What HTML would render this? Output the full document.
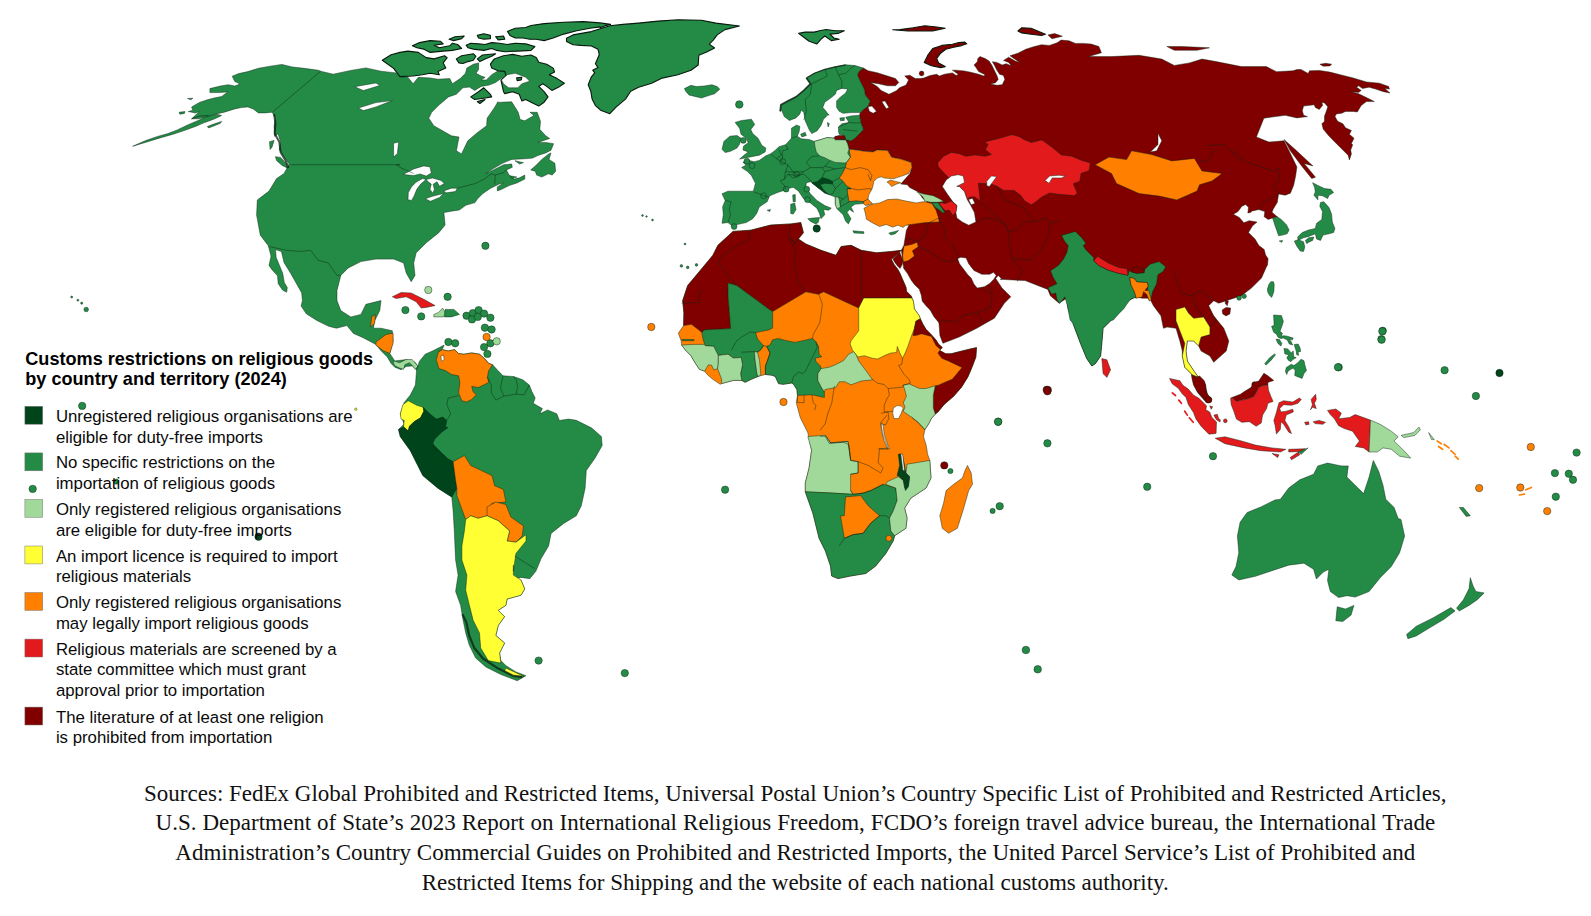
<!DOCTYPE html>
<html lang="en"><head><meta charset="utf-8"><title>Customs restrictions on religious goods by country and territory (2024)</title>
<style>
html,body{margin:0;padding:0;background:#fff}
body{width:1591px;height:916px;position:relative;overflow:hidden;font-family:"Liberation Sans",Arial,Helvetica,sans-serif;color:#000}
svg{position:absolute;left:0;top:0}
svg polygon,svg circle{stroke:#0c2414;stroke-width:.45;stroke-linejoin:round}
svg polygon.j{stroke:#081a0d;stroke-width:1.1}
svg .b{fill:none;stroke:#0c2414;stroke-width:.45}
.title{position:absolute;left:25.3px;font-weight:bold;font-size:18.1px;line-height:20px;white-space:nowrap}
.sw{position:absolute;left:24.6px;width:18.3px;height:18.3px;box-sizing:border-box;border:1px solid rgba(70,70,70,.5)}
.lt{position:absolute;left:55.9px;font-size:16.8px;line-height:19px;white-space:nowrap;color:#0a0a0a}
.src{position:absolute;left:-.7px;width:1592px;text-align:center;font-family:"Liberation Serif","Times New Roman",serif;font-size:23px;line-height:25px;color:#111;white-space:nowrap}
</style></head><body>
<svg width="1591" height="780" viewBox="0 0 1591 780">
<polygon points="232.2,76.2 238.7,73.6 247.9,71.6 258.4,68.3 268.8,66.4 281.9,64.4 292.4,67.0 304.2,68.3 318.6,70.3 320.6,71.2 333.2,74.2 350.8,70.4 365.9,67.9 381.0,71.2 396.1,72.9 401.1,76.7 407.9,77.3 413.1,83.8 418.3,77.3 430.1,77.9 438.0,79.2 449.8,78.6 452.4,83.8 460.2,78.6 465.5,73.3 466.8,68.1 473.3,64.2 478.6,62.9 478.6,69.4 476.0,73.3 481.2,76.0 485.1,77.3 481.2,79.9 486.4,79.9 491.7,74.7 498.2,70.7 504.8,71.4 506.1,76.0 500.9,78.6 495.6,82.5 489.1,85.1 481.2,86.4 474.7,90.4 469.4,87.1 462.9,87.8 456.3,94.3 448.5,96.9 439.3,104.8 431.4,112.6 431.3,113.1 428.8,118.2 433.8,125.7 451.4,135.8 459.0,137.0 456.4,150.8 461.5,153.9 467.8,140.8 476.6,133.2 486.6,125.7 487.1,118.2 494.2,108.1 497.9,101.8 497.3,102.4 511.7,101.8 518.2,112.3 520.2,119.5 524.8,120.8 533.9,115.5 530.0,112.3 537.2,112.3 540.5,121.4 539.8,129.3 545.7,135.8 549.7,138.5 537.9,142.4 545.7,142.4 553.6,143.7 551.0,150.2 545.7,152.9 537.9,155.5 532.6,158.1 524.8,158.8 511.7,159.4 502.5,163.3 493.3,168.6 485.5,173.8 493.3,169.9 503.8,164.7 511.7,164.0 512.3,167.3 506.4,169.9 509.1,175.1 514.3,179.1 519.5,177.8 524.8,175.1 524.8,179.1 516.9,183.0 509.1,185.6 501.2,189.5 497.3,190.9 497.3,186.9 503.8,183.0 498.6,184.3 490.7,188.2 482.9,193.5 477.6,198.7 475.0,202.6 465.8,205.3 459.3,210.0 451.4,211.2 443.9,212.6 445.1,225.1 438.8,232.7 426.3,242.7 416.2,252.8 413.7,262.9 415.0,275.4 411.2,281.7 406.2,272.9 403.6,262.9 393.6,259.1 376.0,259.1 360.9,261.6 348.3,267.9 340.8,275.4 337.0,290.5 337.0,300.6 340.8,310.6 350.8,316.9 360.9,314.4 365.9,304.3 381.0,300.6 379.8,310.6 374.7,320.7 373.5,328.2 381.0,328.2 392.3,330.7 393.1,340.8 389.8,353.4 394.8,360.9 406.2,359.6 415.0,362.2 418.7,367.2 417.5,371.0 412.4,365.9 406.2,366.4 401.1,369.7 394.8,367.2 391.1,363.4 387.3,357.1 381.0,350.8 376.0,344.6 362.6,337.4 353.5,333.5 346.9,325.6 336.4,328.2 328.6,326.3 316.8,320.4 306.3,313.8 301.1,306.0 302.4,300.7 301.7,292.9 295.8,282.4 290.6,273.2 284.1,262.7 281.4,251.6 275.5,249.6 276.2,257.5 279.5,265.4 282.7,273.2 284.3,282.4 287.3,287.6 286.7,292.2 282.7,290.2 278.2,283.7 277.5,275.8 271.6,269.3 269.0,265.4 271.0,256.2 268.3,245.7 260.3,235.2 256.6,215.1 257.3,200.0 269.0,191.1 276.6,178.5 284.1,173.5 289.1,163.9 284.6,157.4 279.3,149.5 280.6,141.7 278.0,133.8 274.7,136.4 274.1,126.0 275.4,118.1 272.1,112.2 264.9,112.9 258.4,112.9 253.1,108.9 247.9,107.0 241.3,107.6 234.8,108.9 224.3,112.2 215.1,114.2 206.0,117.5 198.1,118.8 191.6,118.8 199.4,111.6 195.5,112.9 188.3,111.6 192.9,110.2 191.6,107.0 199.4,102.4 207.3,99.8 215.1,97.8 221.7,96.5 227.6,91.9 219.1,92.6 209.9,92.6 209.9,88.6 220.4,86.0 228.2,84.7 234.8,86.0 240.0,84.1 234.8,81.4" fill="#238b45"/>
<polygon points="206.0,117.1 198.1,120.5 187.6,125.0 177.2,129.9 168.0,133.6 157.5,136.4 145.7,140.6 132.6,146.3 147.0,141.9 160.1,137.9 173.2,134.2 185.0,130.3 195.5,126.4 203.3,123.1 213.8,119.2 221.7,115.5 216.4,114.2" fill="#238b45"/>
<polygon points="207.3,126.6 213.8,124.0 221.7,121.4 220.4,123.3 213.8,126.0 208.6,127.9" fill="#238b45"/>
<polygon points="179.1,112.2 185.0,111.6 184.4,113.5 179.8,114.2" fill="#238b45"/>
<polygon points="187.6,98.5 192.9,98.2 190.9,99.8" fill="#238b45"/>
<polygon points="269.5,141.7 274.1,140.4 272.1,146.9 270.1,149.5" fill="#238b45"/>
<polygon points="403.1,174.5 413.7,169.0 423.8,165.9 430.0,166.9 431.3,173.0 426.3,176.0 420.0,174.0 413.7,175.5" fill="#fff"/>
<polygon points="408.0,199.8 408.3,192.6 411.6,186.7 416.2,182.1 422.7,178.6 426.0,179.5 420.7,184.1 416.8,189.3 414.2,195.8 411.6,200.4" fill="#fff"/>
<polygon points="426.0,179.5 432.6,178.1 441.0,180.4 444.2,183.6 439.6,186.3 437.0,181.7 433.1,184.3 434.4,189.5 432.6,193.2 430.0,189.3 431.3,184.0 428.6,182.1" fill="#fff"/>
<polygon points="425.2,198.7 433.1,196.1 443.6,193.5 439.6,197.4 430.5,201.3" fill="#fff"/>
<polygon points="443.6,190.9 451.4,188.2 457.3,188.2 455.4,191.5 446.2,192.8" fill="#fff"/>
<polygon points="393.6,143.3 398.6,142.0 397.4,153.4 393.6,157.1" fill="#fff"/>
<polygon points="354.6,86.7 376.0,83.0 379.8,85.5 363.4,90.5" fill="#fff"/>
<polygon points="358.4,108.1 376.0,102.6 392.3,100.6 376.0,106.9 363.4,110.6" fill="#fff"/>
<polygon class="j" points="382.3,60.3 391.1,54.8 400.0,52.4 407.9,51.1 418.3,52.4 426.2,57.6 434.1,58.9 444.5,55.7 447.2,57.6 443.2,62.9 445.8,68.1 438.0,71.4 439.3,74.7 430.1,73.3 422.3,74.7 413.1,76.0 400.0,76.6 393.6,68.4" fill="#238b45"/>
<polygon class="j" points="412.4,45.8 419.6,42.6 430.1,40.6 440.6,41.3 443.2,43.9 434.1,45.2 439.3,47.8 449.8,45.8 452.4,43.2 457.6,44.5 461.6,48.5 452.4,50.4 443.2,51.1 430.1,52.4 423.6,49.1 417.0,47.8" fill="#238b45"/>
<polygon class="j" points="449.1,39.3 455.0,36.7 464.2,36.0 461.6,38.6 453.7,40.6" fill="#238b45"/>
<polygon class="j" points="466.1,45.2 470.7,43.2 478.6,43.9 485.1,44.5 491.7,42.6 499.5,43.2 507.4,44.5 515.3,43.2 525.7,43.9 534.9,46.5 531.0,50.4 517.9,51.1 504.8,51.7 496.9,50.4 491.7,48.5 483.8,50.4 473.3,49.1 468.1,47.8" fill="#238b45"/>
<polygon class="j" points="477.3,35.4 483.8,33.8 490.4,35.4 490.4,38.6 483.8,39.3 478.6,38.0" fill="#238b45"/>
<polygon class="j" points="495.6,36.7 503.5,36.0 504.8,39.3 498.2,39.9" fill="#238b45"/>
<polygon class="j" points="456.3,58.9 461.6,55.7 473.3,53.7 476.0,56.3 473.3,60.2 468.1,61.6 462.9,63.5 458.9,62.9" fill="#238b45"/>
<polygon class="j" points="477.3,58.9 482.5,55.0 495.6,53.7 491.7,56.3 485.1,58.9 479.9,61.6" fill="#238b45"/>
<polygon class="j" points="470.7,96.9 478.6,91.7 483.8,87.8 490.4,94.3 491.7,96.9 483.8,98.2 474.7,99.5" fill="#238b45"/>
<polygon class="j" points="477.3,101.5 485.1,99.5 479.9,103.5" fill="#238b45"/>
<polygon class="j" points="490.4,64.2 494.3,58.9 503.5,55.7 512.6,54.4 521.8,56.3 531.0,55.0 536.2,57.6 538.8,62.2 546.7,64.2 553.2,68.1 554.6,72.0 549.3,74.7 557.2,78.6 564.4,83.2 559.8,86.4 551.9,90.4 546.7,86.4 542.8,83.8 538.8,86.4 544.1,91.7 548.0,96.9 544.1,102.2 538.8,106.1 533.6,103.5 525.7,99.5 521.8,100.9 519.2,94.3 512.6,91.7 504.8,93.6 503.5,91.7 500.9,79.9 506.1,76.0 504.8,71.4 498.2,70.7 491.7,68.1" fill="#238b45"/>
<polygon points="507.4,74.7 515.3,73.3 525.7,77.3 529.7,81.2 521.8,83.8 517.9,87.8 508.7,87.8 503.5,83.8 501.5,79.9" fill="#fff"/>
<polygon class="j" points="516.6,77.9 521.8,77.3 521.2,79.9 517.2,80.6" fill="#238b45"/>
<polygon class="j" points="507.4,31.4 515.3,28.2 525.7,27.5 531.0,25.5 544.1,23.6 563.7,22.3 583.4,21.6 600.0,22.9 610.6,24.4 605.6,25.6 600.6,27.7 600.0,26.9 589.9,28.2 576.8,30.8 563.7,34.1 553.2,38.0 544.1,40.6 536.2,39.3 529.7,39.3 523.1,38.0 515.3,38.0 510.0,35.4" fill="#238b45"/>
<polygon points="530.7,169.9 535.3,166.0 541.8,159.4 548.4,154.2 551.0,152.9 549.0,159.4 554.9,163.3 555.6,171.2 552.3,175.1 548.4,173.8 541.8,177.1 536.6,175.1 535.3,171.2" fill="#238b45"/>
<polygon points="515.0,160.7 523.5,162.7 519.5,164.0" fill="#238b45"/>
<polygon points="510.4,175.8 516.9,177.1 511.7,178.4" fill="#238b45"/>
<polygon points="275.4,156.7 280.6,157.4 286.5,163.9 287.2,167.9 281.9,165.3 276.7,160.7" fill="#238b45"/>
<polygon class="j" points="566.5,38.2 573.1,34.9 591.4,31.6 609.8,25.7 622.9,24.4 638.6,23.1 658.2,21.1 677.9,19.8 701.5,20.2 715.9,23.1 739.4,26.0 725.0,29.6 717.2,34.9 713.2,40.1 709.3,44.1 714.6,48.0 706.7,51.9 698.8,55.2 698.2,65.0 691.0,70.2 677.9,74.8 662.2,78.1 651.7,83.3 638.6,87.3 630.7,91.2 625.5,99.1 616.3,106.9 609.8,113.7 600.6,110.2 595.4,105.6 592.1,99.1 590.8,91.2 588.2,84.7 591.4,76.8 594.7,72.9 592.7,70.2 598.0,67.6 595.4,63.7 599.3,54.5 598.0,49.3 591.4,46.0 581.0,45.4 573.1,44.7 566.5,41.4" fill="#238b45"/>
<polygon points="684.4,88.6 691.0,85.3 696.2,86.6 704.1,86.0 711.9,84.7 717.2,86.6 719.8,89.2 714.6,93.8 708.0,95.8 701.5,98.0 694.9,96.4 689.0,95.1 685.7,91.2" fill="#238b45"/>
<polygon class="j" points="798.6,33.4 805.1,32.1 814.3,32.1 819.5,30.8 826.1,29.5 835.3,30.8 844.4,30.8 837.9,33.4 830.0,34.1 833.9,38.0 839.2,39.3 831.3,40.6 824.8,36.0 820.9,39.3 816.9,43.9 809.1,41.3 803.8,37.3" fill="#238b45"/>
<circle cx="739.3" cy="104.5" r="3.8" fill="#238b45"/>
<polyline points="320.6,71.2 272.8,111.9" class="b"/>
<polyline points="290.4,164.7 400.0,164.7 396.1,164.7 401.1,167.9 413.7,173.5" class="b"/>
<polyline points="457.3,188.2 475.0,183.6 484.2,179.1 491.4,173.8 495.3,175.1 494.7,184.3" class="b"/>
<polyline points="495.3,175.1 503.8,172.5 506.4,169.9" class="b"/>
<polyline points="269.1,246.5 286.7,250.3 300.6,251.5 310.6,250.3 318.2,260.3 328.2,262.9 337.0,275.4 340.8,275.4" class="b"/>
<polygon points="376.0,342.0 386.0,334.5 393.1,333.2 393.1,343.3 389.8,353.4 383.5,350.8 376.0,345.3" fill="#ff7f00"/>
<polygon points="371.7,316.9 375.2,314.4 374.7,323.2 370.5,327.0" fill="#ff7f00"/>
<polygon points="393.1,360.8 399.6,362.7 406.2,359.5 412.1,359.5 416.7,364.7 418.0,366.0 415.4,369.3 412.7,366.0 409.5,362.7 404.9,364.7 403.6,369.3 399.6,368.0 394.4,365.4" fill="#a1d99b"/>
<polygon points="392.3,296.8 401.1,292.5 411.2,293.0 423.8,299.3 435.1,305.6 426.3,307.4 421.2,308.1 416.2,301.8 406.2,296.8 396.1,298.6" fill="#e31a1c"/>
<polygon points="433.8,314.4 438.3,312.6 442.6,308.1 445.6,313.1 443.4,316.9 433.8,316.9" fill="#a1d99b"/>
<polygon points="445.1,309.4 453.9,309.4 459.5,314.4 451.4,316.9 444.4,316.9" fill="#238b45"/>
<circle cx="485.4" cy="245.8" r="3.7" fill="#238b45"/>
<circle cx="447.6" cy="296.8" r="3.7" fill="#238b45"/>
<circle cx="405.4" cy="310.1" r="3.7" fill="#238b45"/>
<circle cx="421.2" cy="316.4" r="3.7" fill="#238b45"/>
<circle cx="466.5" cy="315.7" r="3.7" fill="#238b45"/>
<circle cx="472.8" cy="313.1" r="3.7" fill="#238b45"/>
<circle cx="478.6" cy="310.1" r="3.7" fill="#238b45"/>
<circle cx="484.1" cy="313.6" r="3.7" fill="#238b45"/>
<circle cx="472.0" cy="319.4" r="3.7" fill="#238b45"/>
<circle cx="477.8" cy="316.9" r="3.7" fill="#238b45"/>
<circle cx="490.4" cy="317.7" r="3.7" fill="#238b45"/>
<circle cx="484.9" cy="327.7" r="3.7" fill="#238b45"/>
<circle cx="491.6" cy="329.5" r="3.7" fill="#238b45"/>
<circle cx="490.4" cy="343.3" r="3.7" fill="#238b45"/>
<circle cx="484.1" cy="347.1" r="3.7" fill="#238b45"/>
<circle cx="487.4" cy="353.9" r="3.7" fill="#238b45"/>
<circle cx="448.4" cy="342.0" r="3.7" fill="#238b45"/>
<circle cx="455.2" cy="343.3" r="3.7" fill="#238b45"/>
<circle cx="428.3" cy="290.0" r="3.7" fill="#a1d99b"/>
<circle cx="486.6" cy="337.0" r="3.7" fill="#ff7f00"/>
<circle cx="496.7" cy="341.3" r="3.7" fill="#a1d99b"/>
<polygon points="418.0,366.0 419.3,361.4 425.2,354.2 432.4,351.0 438.9,347.7 444.2,345.1 442.9,348.3 438.3,352.3 442.2,349.6 448.1,351.0 454.7,349.6 458.6,353.6 463.8,354.2 471.7,352.9 479.5,354.2 484.8,358.8 488.7,363.4 492.6,364.7 497.9,370.6 503.1,375.8 513.6,376.5 522.8,379.8 529.3,385.0 531.9,391.6 535.2,398.1 533.2,403.3 542.4,408.6 539.8,413.8 547.6,409.9 556.8,413.8 559.4,420.4 568.6,419.1 576.3,420.3 591.4,427.8 601.4,436.6 602.2,445.4 595.1,458.0 586.3,470.6 585.1,488.2 581.3,505.8 576.3,515.8 563.7,523.4 551.1,533.4 548.6,546.0 541.1,558.6 536.0,571.1 529.8,578.7 521.0,577.4 515.9,578.7 521.0,580.1 524.7,588.9 521.0,595.2 507.1,599.0 505.9,605.3 498.3,610.3 504.6,616.6 498.3,625.4 495.8,635.4 504.6,643.0 499.6,653.0 500.8,660.6 505.9,665.6 515.9,671.9 526.0,675.7 517.2,680.7 500.8,674.4 485.8,666.9 475.7,658.1 469.4,645.5 465.7,632.9 463.1,620.3 460.6,605.3 455.6,591.4 458.1,575.1 455.6,560.0 454.3,530.9 453.1,510.8 451.8,497.0 438.0,488.2 422.9,475.6 410.3,450.5 400.3,436.6 399.0,429.1 404.1,424.1 400.3,414.0 404.1,402.7 410.3,395.1 415.4,385.1 416.6,370.0" fill="#238b45"/>
<polygon points="436.3,360.1 438.3,352.3 442.2,349.6 448.1,351.0 454.7,349.6 458.6,353.6 463.8,354.2 471.7,352.9 479.5,354.2 484.8,358.8 488.7,363.4 492.6,364.7 488.7,370.6 487.4,377.2 488.7,382.4 483.5,385.0 478.2,387.6 471.7,386.3 473.0,391.6 476.3,394.8 471.7,399.4 466.4,402.0 461.9,400.7 458.6,392.9 459.9,382.4 458.6,375.8 451.4,374.5 445.5,370.6 438.9,368.6 437.6,364.1" fill="#ff7f00"/>
<polygon points="440.9,356.2 443.5,354.9 444.2,359.5 441.6,361.4" fill="#fff"/>
<polygon points="400.3,413.8 402.9,404.7 408.2,400.7 416.7,405.3 423.2,407.3 423.9,411.2 420.6,417.8 414.1,421.7 409.5,426.3 408.2,430.9 403.6,426.9 404.2,420.4 401.0,419.1" fill="#ffff33"/>
<polygon points="398.3,429.5 403.6,426.9 408.2,430.9 409.5,426.3 414.1,421.7 420.6,417.8 423.9,411.2 423.2,407.3 429.8,413.8 436.3,419.1 442.9,417.1 446.8,420.4 445.5,426.9 448.1,427.6 441.6,432.2 435.0,438.7 432.4,443.9 433.0,444.2 446.8,458.0 453.1,461.8 455.6,480.6 456.9,488.2 451.8,497.0 438.0,488.2 422.9,475.6 410.3,450.5 400.3,436.6" fill="#00441b"/>
<polygon points="453.1,461.8 464.4,455.5 470.7,465.5 492.0,475.6 494.6,485.7 503.4,489.4 505.9,502.0 492.0,503.2 487.0,515.8 478.2,518.3 470.7,515.8 465.7,519.6 456.9,495.7 456.9,488.2 455.6,480.6" fill="#ff7f00"/>
<polygon points="487.0,507.0 495.8,502.0 505.9,504.5 510.9,517.1 523.5,525.9 522.2,535.9 515.9,542.2 507.1,541.0 509.6,530.9 498.3,520.8 487.0,515.8" fill="#ff7f00"/>
<polygon points="465.7,519.6 470.7,515.8 478.2,518.3 487.0,515.8 498.3,520.8 509.6,530.9 507.1,541.0 515.9,542.2 526.0,534.7 526.0,541.0 515.9,553.5 513.4,571.1 513.4,565.0 513.4,575.1 521.0,580.1 524.7,588.9 521.0,595.2 507.1,599.0 505.9,605.3 498.3,610.3 504.6,616.6 498.3,625.4 495.8,635.4 504.6,643.0 499.6,653.0 500.8,663.1 488.3,660.6 480.7,648.0 479.5,632.9 473.2,620.3 469.4,605.3 465.7,590.2 466.9,575.1 461.9,560.0 461.9,546.0 464.4,530.9" fill="#ffff33"/>
<polygon points="505.9,668.1 523.5,676.2 513.4,676.2 504.6,671.1" fill="#ffff33"/>
<polyline points="487.4,377.2 491.3,385.0 491.3,392.9 495.9,400.1 503.8,396.1 516.2,394.2 524.1,394.8 529.3,385.0" class="b"/>
<polyline points="503.8,396.1 500.5,387.6 503.1,375.8" class="b"/>
<polyline points="516.2,394.2 517.5,386.3 516.2,379.8 513.6,376.5" class="b"/>
<polyline points="446.8,420.4 450.7,413.8 446.8,404.7 448.1,398.1 458.6,395.5" class="b"/>
<polyline points="446.8,458.0 434.2,447.9 433.0,442.9" class="b"/>
<polyline points="514.7,556.0 534.8,568.6" class="b"/>
<circle cx="538.6" cy="660.6" r="3.7" fill="#238b45"/>
<circle cx="624.8" cy="673.1" r="3.7" fill="#238b45"/>
<circle cx="725.1" cy="489.7" r="3.7" fill="#238b45"/>
<polyline points="462.4,614.3 466.3,622.2 469.3,635.9 474.2,647.7 483.0,658.5 496.8,667.7 512.5,675.6 522.3,677.2" style="fill:none;stroke:#0a1f10;stroke-opacity:.75;stroke-width:2.2;stroke-linejoin:round"/>
<polyline points="274.1,114.2 275.4,123.3 274.7,133.8 279.3,141.7 280.6,152.2 285.9,161.3 288.5,167.9" style="fill:none;stroke:#0a1f10;stroke-opacity:.75;stroke-width:2.0;stroke-linejoin:round"/>
<polyline points="191.6,118.8 199.4,116.1 208.6,115.5" style="fill:none;stroke:#0a1f10;stroke-opacity:.75;stroke-width:0.8;stroke-linejoin:round"/>
<polygon points="863.4,68.1 868.0,70.7 877.2,72.7 887.6,76.0 895.5,78.6 898.8,82.5 895.5,85.8 887.6,85.8 878.5,83.8 870.6,82.5 877.2,86.4 881.1,90.4 889.0,94.3 894.2,91.7 896.8,90.4 899.4,87.8 906.0,85.1 908.6,79.9 904.7,76.0 909.9,75.3 915.2,78.6 920.0,78.6 923.6,78.1 930.1,75.5 936.7,74.2 939.3,76.1 944.5,74.2 952.4,72.9 956.3,75.5 958.3,74.2 952.4,70.2 956.3,70.2 964.2,70.9 970.7,72.2 978.6,74.2 983.8,76.1 985.1,74.8 978.6,71.6 976.0,67.6 974.0,65.0 977.3,61.7 977.9,58.5 979.9,56.5 985.1,58.5 989.1,61.1 991.7,65.0 994.3,70.2 996.9,75.5 998.2,79.4 995.6,82.7 990.4,84.0 996.9,85.3 1002.2,84.7 1004.8,79.4 1003.5,75.5 999.5,74.2 996.9,70.2 994.3,65.0 992.3,61.7 996.9,62.4 1002.2,65.0 1006.1,63.7 1011.3,65.7 1008.7,62.4 1003.5,60.4 1008.7,57.2 1015.3,61.1 1019.8,62.4 1013.9,58.5 1010.0,55.8 1017.9,53.2 1025.7,49.3 1033.6,46.7 1041.5,44.7 1049.3,45.4 1057.2,42.7 1061.1,40.1 1069.0,40.8 1075.5,43.4 1083.4,43.4 1091.2,44.1 1098.9,46.5 1101.4,52.8 1088.8,56.6 1111.5,56.6 1139.1,55.3 1161.8,59.1 1174.3,65.4 1189.4,62.9 1202.0,59.1 1216.1,61.6 1241.3,66.6 1266.4,66.6 1276.5,71.7 1293.1,70.8 1297.0,69.5 1301.0,69.5 1308.2,73.4 1309.5,70.8 1319.3,70.4 1329.8,72.1 1340.2,74.7 1353.3,78.0 1366.4,81.9 1379.5,83.2 1388.7,86.5 1389.4,89.1 1384.8,88.5 1390.0,93.0 1383.5,91.7 1375.6,89.1 1369.1,87.2 1362.5,88.5 1358.6,85.8 1356.6,87.2 1361.2,90.4 1358.6,92.4 1351.4,91.7 1358.6,93.7 1366.4,97.6 1374.3,101.6 1366.4,101.6 1361.2,105.5 1357.3,112.0 1353.3,111.4 1345.5,111.4 1341.6,113.3 1336.3,114.0 1335.0,116.6 1337.6,121.2 1342.9,123.8 1345.5,127.8 1351.4,130.4 1349.4,134.3 1354.0,138.2 1351.4,143.5 1352.7,144.8 1350.7,150.0 1351.4,153.9 1349.4,160.0 1348.1,155.3 1341.6,148.7 1335.0,142.2 1328.5,135.6 1323.2,129.1 1321.9,123.8 1324.5,121.2 1324.5,116.0 1326.5,110.7 1327.8,106.8 1324.5,102.9 1321.9,102.2 1322.6,105.5 1319.3,109.4 1315.4,107.5 1314.1,104.8 1303.6,106.1 1302.3,110.7 1303.6,115.3 1307.5,116.6 1297.0,117.9 1285.2,115.3 1263.9,118.2 1256.4,137.0 1268.9,142.0 1284.0,140.8 1291.6,155.9 1296.9,167.0 1295.6,176.2 1293.6,185.4 1290.4,193.2 1285.1,195.2 1278.6,193.9 1277.3,202.4 1273.3,208.9 1272.0,212.2 1277.3,216.8 1272.7,218.1 1268.1,219.4 1264.2,216.8 1264.8,211.6 1258.9,209.6 1252.4,210.9 1250.4,212.6 1247.8,212.9 1248.5,207.6 1245.8,204.4 1241.9,206.3 1238.0,211.6 1233.4,214.2 1239.3,217.5 1243.9,222.7 1249.1,220.7 1257.0,222.0 1252.4,226.0 1248.5,232.5 1255.0,239.1 1258.9,245.6 1264.2,249.5 1265.5,254.8 1268.1,258.7 1267.5,265.3 1266.5,266.7 1261.5,278.1 1251.4,288.1 1241.4,295.7 1226.3,300.7 1218.7,303.2 1213.7,300.7 1208.7,305.7 1213.7,315.8 1223.8,328.3 1228.8,340.9 1226.3,351.0 1213.7,362.3 1209.9,356.0 1201.1,351.0 1198.6,345.9 1193.6,340.9 1187.3,340.9 1186.0,351.0 1187.3,361.0 1194.8,372.3 1198.6,377.4 1204.9,383.6 1207.4,393.7 1211.2,401.2 1206.2,402.5 1198.6,393.7 1193.6,383.6 1192.3,374.8 1184.8,367.3 1182.3,356.0 1182.3,351.0 1179.8,340.9 1176.0,328.3 1167.2,327.1 1163.4,328.3 1160.9,315.8 1153.4,305.7 1149.6,298.2 1142.0,298.2 1135.8,296.9 1128.2,300.7 1123.2,308.2 1110.6,320.8 1103.1,328.3 1101.8,343.4 1100.6,356.0 1095.5,363.5 1091.8,366.0 1086.7,358.5 1080.5,343.4 1072.9,323.3 1067.9,308.2 1066.6,298.2 1059.1,303.2 1050.3,295.7 1047.8,289.4 1025.1,280.6 1000.0,279.3 1002.0,279.2 998.2,275.4 995.7,278.4 1002.0,288.0 1010.8,296.8 1004.5,303.1 994.4,318.2 976.8,328.2 959.2,337.0 942.9,343.3 939.9,335.5 939.4,328.6 938.9,322.7 934.0,316.8 930.1,309.9 926.2,306.0 922.2,301.1 921.3,295.2 919.3,289.3 914.4,284.4 911.4,280.5 907.5,273.6 903.6,268.2 902.7,260.3 901.4,250.3 903.9,245.3 906.4,230.2 909.0,225.1 905.3,224.7 918.4,213.8 927.1,201.8 922.8,198.5 918.4,192.0 909.7,187.6 907.3,184.7 900.7,184.0 906.0,178.1 909.9,173.5 911.9,167.6 911.2,162.4 900.7,159.1 891.6,157.2 887.6,150.6 877.2,149.9 873.2,151.9 864.1,151.3 856.2,149.9 849.0,149.3 847.7,144.1 845.7,139.6 851.0,140.8 854.9,138.2 858.8,134.2 863.4,129.6 860.8,122.4 859.5,115.2 860.8,110.7 860.8,112.9 862.8,110.0 868.0,106.1 870.0,100.9 865.4,95.6 864.1,89.1 860.8,82.5 857.5,75.3 858.8,71.4" fill="#800000"/>
<polygon class="j" points="924.2,62.4 928.2,54.5 932.7,48.6 941.9,45.4 952.4,44.3 958.9,42.5 964.8,42.1 966.8,43.8 961.6,45.6 953.7,47.3 945.8,49.3 940.6,53.2 936.7,58.5 938.6,63.0 945.2,66.6 940.6,67.6 931.4,65.7" fill="#800000"/>
<circle cx="921.6" cy="73.5" r="2.4" fill="#800000"/>
<polygon class="j" points="900.0,29.6 913.1,27.7 924.9,25.7 936.7,27.0 945.2,28.3 932.7,31.0 919.6,31.0 907.9,31.0 892.7,29.7" fill="#800000"/>
<polygon class="j" points="1017.9,31.0 1021.8,27.7 1031.0,28.3 1038.8,31.6 1045.4,34.2 1041.5,35.5 1031.0,34.2 1021.8,32.9" fill="#800000"/>
<polygon points="1048.0,34.9 1054.6,33.6 1062.4,36.2 1051.9,38.8" fill="#800000"/>
<polygon points="1166.8,46.5 1181.9,46.5 1209.5,47.8 1197.0,50.3 1174.3,50.3" fill="#800000"/>
<polygon points="1284.0,139.5 1296.6,150.8 1312.9,165.9 1304.1,163.4 1315.5,177.2 1311.7,178.5 1301.6,165.9 1290.3,150.8" fill="#800000"/>
<polygon points="1319.9,64.2 1325.8,63.3 1331.7,64.2 1329.8,65.9 1323.2,66.2" fill="#800000"/>
<polygon points="835.0,136.3 845.2,136.3 845.2,139.5 835.4,139.1" fill="#800000"/>
<polygon points="1158.0,133.2 1161.8,140.8 1156.7,150.8 1150.4,152.1 1158.0,144.6" fill="#fff"/>
<polygon points="868.0,106.7 871.9,106.1 876.5,111.3 873.2,113.3 869.3,111.3" fill="#fff"/>
<polygon points="881.8,101.5 885.0,100.9 889.0,107.4 886.3,108.7 883.7,104.8" fill="#fff"/>
<polygon points="937.7,162.9 943.6,156.3 951.4,152.4 959.3,153.7 965.8,156.3 975.0,155.0 985.5,156.3 991.4,154.4 985.5,149.8 988.1,144.5 984.8,141.9 998.6,138.6 1011.7,134.7 1019.5,136.7 1023.5,139.3 1031.3,142.6 1041.8,139.9 1051.0,146.5 1061.5,155.0 1071.9,156.3 1081.1,160.2 1090.3,162.9 1089.0,170.7 1081.1,173.3 1079.8,181.2 1073.2,183.8 1077.2,193.0 1074.6,195.6 1058.8,194.3 1049.7,193.0 1041.8,196.9 1035.3,202.2 1031.3,204.8 1024.8,200.9 1020.9,195.6 1014.3,190.4 1003.8,190.4 997.3,186.4 990.7,183.8 978.3,183.2 980.2,200.9 975.0,196.9 969.8,196.9 967.2,199.5 964.5,191.7 959.3,186.4 951.4,181.2 948.2,177.3 938.3,166.8" fill="#e31a1c"/>
<polygon points="942.3,186.4 946.2,179.9 951.4,176.0 958.0,174.7 963.2,176.0 964.5,182.5 956.7,186.4 959.3,186.4 964.5,191.7 967.2,199.5 970.4,204.8 974.4,212.6 975.9,221.9 968.7,225.2 962.2,221.9 956.9,218.0 955.6,211.4 956.9,205.5 951.7,201.0 954.1,203.5 947.5,194.3" fill="#fff"/>
<polygon points="968.5,199.5 972.4,198.2 975.0,203.5 971.1,204.8" fill="#fff"/>
<polygon points="957.6,258.6 960.9,257.3 966.1,257.9 968.7,263.8 973.9,270.4 981.8,274.3 989.7,274.3 993.6,272.3 996.2,275.6 993.6,279.5 989.7,283.5 984.4,286.7 977.2,288.1 973.9,284.1 971.3,278.2 967.4,274.3 963.5,269.1 959.5,263.8" fill="#fff"/>
<polygon points="986.8,181.2 991.4,176.0 996.6,176.6 993.3,181.2 989.4,186.4 986.8,185.8" fill="#fff"/>
<polygon points="1045.1,180.6 1049.7,176.0 1058.8,175.3 1065.4,176.0 1061.5,177.9 1052.3,177.9 1049.0,183.2" fill="#fff"/>
<polygon points="1095.1,164.7 1109.0,157.1 1126.6,159.6 1131.6,150.8 1151.7,154.6 1171.8,160.9 1194.4,158.4 1202.0,171.0 1222.1,173.5 1212.0,181.0 1199.5,184.8 1197.0,191.1 1176.8,199.9 1159.2,196.1 1139.1,193.6 1116.5,183.5 1111.5,173.5" fill="#ff7f00"/>
<polygon points="938.6,202.3 945.1,203.6 951.7,201.0 956.9,205.5 956.3,211.4 953.0,215.4 949.1,210.1 945.1,210.8 941.2,206.2" fill="#e31a1c"/>
<polygon points="917.0,191.8 922.9,193.8 933.3,195.7 939.9,199.0 943.8,201.6 937.3,202.3 930.7,202.3 924.8,201.0 922.9,197.0" fill="#a1d99b"/>
<polygon points="931.8,202.9 937.9,202.5 941.2,206.9 945.1,212.7 942.5,212.7 938.6,209.5 935.3,207.5" fill="#238b45"/>
<polygon points="863.9,208.2 871.8,204.2 879.6,202.9 887.5,199.6 896.7,199.0 905.8,201.0 916.3,202.9 924.2,201.6 932.0,203.6 936.0,210.1 938.6,218.0 939.2,221.9 925.5,222.6 915.0,223.9 905.8,225.2 903.2,227.4 898.0,225.2 892.7,227.2 886.2,224.5 879.6,226.5 873.1,223.2 866.5,219.3 865.2,212.7" fill="#ff7f00"/>
<polygon points="863.8,200.7 869.3,201.8 868.2,205.1 863.8,204.0" fill="#ff7f00"/>
<polygon points="849.0,149.3 856.2,149.9 864.1,151.3 873.2,151.9 877.2,149.9 887.6,150.6 891.6,157.2 900.7,159.1 911.2,162.4 911.9,167.6 908.6,173.5 903.4,175.5 895.5,178.1 894.2,178.8 884.4,178.1 881.1,176.8 877.2,178.1 873.9,181.4 872.6,187.3 871.9,189.2 868.7,195.1 868.0,199.1 863.4,201.7 856.2,201.0 849.0,201.7 847.7,195.1 847.0,188.6 851.0,188.6 846.4,186.0 843.1,181.4 839.2,178.1 842.5,172.9 845.1,167.6 846.4,162.4 850.3,157.2" fill="#ff7f00"/>
<polygon points="887.0,182.0 890.3,180.1 895.5,181.4 900.7,182.7 896.8,184.0 891.6,186.6 889.6,184.0" fill="#ff7f00"/>
<polygon points="863.4,201.7 868.0,199.1 870.6,201.7 872.6,203.6 865.4,205.6 863.4,203.6" fill="#ff7f00"/>
<polygon points="770.4,153.9 775.0,150.6 778.9,146.7 785.5,144.7 788.1,142.1 791.4,138.2 791.4,133.6 791.4,128.3 796.6,125.1 799.9,126.4 799.2,131.6 797.3,136.2 801.2,138.8 809.1,139.5 814.3,141.4 820.9,139.5 827.4,137.5 833.9,138.2 835.3,139.9 845.7,139.9 847.7,144.1 849.0,149.3 850.3,157.2 846.4,162.4 845.1,167.6 842.5,172.9 839.2,178.1 843.1,181.4 846.4,186.0 851.0,188.6 847.0,188.6 847.7,195.1 849.0,201.7 856.2,201.0 863.4,201.7 862.8,203.6 854.9,204.3 851.0,206.9 853.6,212.2 849.7,209.5 847.0,212.2 851.0,218.7 848.4,223.9 845.7,221.3 843.1,214.8 839.2,210.9 837.2,208.9 835.3,204.3 835.3,197.1 828.7,194.5 823.5,189.9 818.2,187.9 814.3,184.7 811.7,182.7 811.7,181.4 806.4,182.7 805.8,187.3 810.4,193.8 816.9,200.4 824.8,205.6 831.3,208.2 828.7,210.2 823.5,209.5 824.8,214.8 820.9,218.7 819.5,213.5 816.9,208.2 810.4,203.0 803.8,199.1 798.6,191.2 793.3,187.3 788.1,188.6 785.5,189.9 777.6,192.5 769.8,195.8 769.1,197.1 767.2,201.7 759.3,206.9 756.7,213.5 752.7,218.7 746.2,222.6 737.0,224.6 733.1,226.6 727.9,222.6 722.0,223.3 723.3,214.8 722.6,206.9 725.2,200.4 722.0,193.8 727.9,191.2 739.6,191.2 753.4,191.2 755.4,183.3 751.4,175.5 747.5,171.6 741.6,167.6 746.2,165.0 742.9,162.4 746.2,159.8 754.1,161.7 759.3,160.4 765.8,155.8" fill="#238b45"/>
<polygon points="806.4,77.9 814.3,73.3 824.8,69.4 835.3,66.8 845.7,64.8 854.9,65.5 863.4,68.1 858.8,71.4 857.5,75.3 860.8,82.5 864.1,89.1 865.4,95.6 870.0,100.9 868.0,106.1 862.8,110.0 860.8,112.6 851.0,112.6 843.1,113.3 839.2,111.3 836.6,107.4 836.6,100.9 840.5,96.9 845.7,93.0 847.7,89.1 841.8,88.4 836.6,90.4 835.3,94.3 831.3,97.6 824.8,102.2 822.8,107.4 826.1,111.3 828.7,115.3 828.7,113.9 823.5,119.2 820.9,125.7 816.9,131.0 811.7,133.6 809.1,129.6 805.1,120.5 803.8,112.6 801.2,110.0 799.9,113.9 796.0,117.9 789.4,120.5 784.2,116.5 781.6,110.0 780.2,111.3 780.9,104.8 788.1,100.9 796.0,96.9 803.8,90.4 810.4,83.8" fill="#238b45"/>
<polygon points="845.7,117.2 851.0,115.9 859.5,115.2 860.8,122.4 863.4,129.6 858.8,134.2 854.9,138.2 851.0,140.8 845.7,139.5 844.4,135.5 839.2,134.2 838.5,131.6 838.5,127.0 841.8,123.8 849.0,122.4" fill="#238b45"/>
<polygon points="839.8,118.1 844.4,117.6 844.2,120.5 840.5,120.7" fill="#238b45"/>
<polygon points="833.9,137.5 838.5,135.5 844.4,135.5 845.7,139.5 835.3,139.5" fill="#800000"/>
<polygon points="800.6,134.2 805.1,132.3 806.4,135.5 801.9,136.9" fill="#238b45"/>
<polygon points="827.4,122.4 829.4,123.8 828.1,127.0" fill="#238b45"/>
<polygon points="735.1,122.4 741.6,120.5 751.4,119.2 754.7,124.4 750.8,129.6 752.7,133.6 758.0,138.2 761.9,145.4 765.8,148.0 765.2,151.9 759.3,155.2 748.8,157.2 739.6,159.1 744.9,154.5 748.2,151.9 742.9,149.9 743.6,146.0 748.2,142.7 746.2,138.2 741.0,134.2 739.6,128.3" fill="#238b45"/>
<polygon points="722.0,149.3 723.9,141.4 729.8,136.2 737.0,135.5 741.0,138.2 739.6,144.1 737.0,148.0 730.5,151.3 725.2,152.6" fill="#238b45"/>
<polygon points="807.8,218.7 813.0,218.1 819.5,217.4 818.2,222.6 815.6,223.9 810.4,221.3" fill="#238b45"/>
<polygon points="790.7,204.3 794.7,203.0 796.0,209.5 793.3,214.1 790.7,213.5" fill="#238b45"/>
<polygon points="792.7,195.1 795.3,194.5 795.3,201.7 793.1,201.7" fill="#238b45"/>
<polygon points="767.2,210.2 770.4,209.5 769.8,211.5" fill="#238b45"/>
<polygon points="852.9,230.8 863.8,231.7 863.8,233.5 854.0,233.0" fill="#238b45"/>
<polygon points="888.8,233.0 894.1,231.7 898.6,230.4 895.4,233.7 890.8,235.0" fill="#238b45"/>
<circle cx="816.7" cy="228.5" r="3.7" fill="#00441b"/>
<polygon points="814.3,141.4 820.9,139.5 827.4,137.5 833.9,138.2 835.3,139.9 845.7,139.9 847.7,144.1 849.0,149.3 847.7,153.2 850.3,157.2 846.4,162.4 844.4,163.0 835.3,162.4 830.0,160.4 824.8,157.8 819.5,155.8 816.3,151.9 815.0,146.7" fill="#a1d99b"/>
<polygon points="835.3,197.1 838.5,197.1 839.8,201.7 840.5,206.9 837.2,208.9 835.3,204.3" fill="#a1d99b"/>
<polygon points="811.7,182.7 817.6,181.4 822.2,177.5 828.7,179.4 832.6,181.4 832.6,184.0 824.8,183.3 820.2,184.7 823.5,189.9 828.7,194.5 824.8,193.2 818.2,187.9 814.3,184.7" fill="#00441b"/>
<circle cx="743.3" cy="140.4" r="2.9" fill="#238b45"/>
<circle cx="746.9" cy="161.1" r="2.9" fill="#238b45"/>
<circle cx="752.1" cy="165.7" r="2.9" fill="#238b45"/>
<circle cx="782.6" cy="161.5" r="2.9" fill="#238b45"/>
<circle cx="796.6" cy="174.2" r="2.9" fill="#238b45"/>
<circle cx="786.1" cy="189.2" r="2.9" fill="#238b45"/>
<circle cx="806.8" cy="189.2" r="2.9" fill="#238b45"/>
<circle cx="807.5" cy="199.7" r="2.9" fill="#238b45"/>
<circle cx="763.6" cy="195.8" r="2.9" fill="#238b45"/>
<circle cx="734.1" cy="226.6" r="2.9" fill="#238b45"/>
<polyline points="725.2,200.4 731.1,201.7 729.2,209.5 730.5,214.8 727.9,222.6" class="b"/>
<polyline points="753.4,191.9 759.3,193.8 763.9,195.8 769.1,197.1" class="b"/>
<polyline points="770.4,153.9 776.3,158.5 781.6,161.7 788.1,165.0 785.5,171.6 784.2,179.4 780.2,180.7 784.8,186.0 785.5,189.9" class="b"/>
<polyline points="776.3,158.5 781.6,155.2 778.9,149.3" class="b"/>
<polyline points="781.6,155.2 782.9,150.6 788.1,149.3 785.5,144.7" class="b"/>
<polyline points="781.6,161.7 782.9,154.5" class="b"/>
<polyline points="788.1,165.0 793.3,172.2 803.8,171.6 810.4,167.6 806.4,162.4 811.7,156.5 819.5,155.8" class="b"/>
<polyline points="785.5,171.6 793.3,172.2 798.6,175.5 793.3,178.1 788.1,174.2 784.2,179.4" class="b"/>
<polyline points="788.1,174.2 796.0,175.5 803.8,174.2 811.7,181.4" class="b"/>
<polyline points="798.6,175.5 803.8,171.6" class="b"/>
<polyline points="810.4,167.6 822.2,167.6 824.8,171.6 822.2,177.5" class="b"/>
<polyline points="822.2,167.6 824.8,166.3 830.0,160.4" class="b"/>
<polyline points="824.8,166.3 835.3,168.9 845.1,167.6" class="b"/>
<polyline points="824.8,171.6 835.3,168.9" class="b"/>
<polyline points="832.6,181.4 839.2,178.1" class="b"/>
<polyline points="832.6,184.0 835.3,188.6 832.6,193.8 828.7,194.5" class="b"/>
<polyline points="835.3,188.6 843.1,181.4" class="b"/>
<polyline points="838.5,197.1 843.1,199.1 847.7,195.1" class="b"/>
<polyline points="840.5,206.9 839.8,201.7 843.1,199.1" class="b"/>
<polyline points="840.5,206.9 849.0,201.7" class="b"/>
<polyline points="791.4,138.2 797.3,136.2" class="b"/>
<polyline points="843.1,129.6 849.7,130.3 857.5,131.0" class="b"/>
<polyline points="838.5,127.0 849.0,122.4 856.2,123.1 860.8,122.4" class="b"/>
<polyline points="862.8,168.3 868.0,169.6 871.9,175.5 870.6,180.7 868.0,174.2" class="b"/>
<polyline points="847.0,188.6 851.0,188.6 858.8,189.9 868.0,188.6 871.9,189.2" class="b"/>
<polyline points="845.1,167.6 851.0,169.6 860.1,167.6 862.8,168.3" class="b"/>
<polyline points="824.8,69.4 827.4,76.0 811.7,83.8 810.4,94.3 805.1,99.5 806.4,111.3 803.8,120.0" class="b"/>
<polyline points="838.5,74.7 841.8,81.2 841.8,88.4" class="b"/>
<polyline points="835.3,66.8 838.5,74.7 845.7,73.3 851.0,68.1 854.9,65.5" class="b"/>
<polygon points="1061.6,235.4 1075.4,231.4 1081.9,238.0 1085.8,243.2 1083.2,245.8 1085.8,249.8 1093.7,257.6 1093.7,260.9 1098.9,265.5 1108.1,270.1 1118.6,273.3 1128.0,275.3 1129.1,270.7 1131.7,272.0 1136.9,273.3 1144.1,272.7 1144.8,269.4 1150.0,264.2 1159.2,261.6 1165.7,266.8 1163.1,271.4 1157.9,274.7 1156.6,283.8 1152.6,291.7 1151.3,297.6 1149.4,300.9 1146.7,294.3 1148.1,286.4 1147.4,282.5 1136.9,281.9 1134.3,278.6 1129.7,277.3 1131.0,285.1 1134.3,291.7 1136.3,298.2 1134.3,297.6 1130.4,299.5 1126.4,304.8 1123.8,308.7 1118.6,313.9 1113.3,320.0 1110.6,320.8 1103.1,328.3 1101.8,343.4 1100.6,356.0 1095.5,363.5 1091.8,366.0 1086.7,358.5 1080.5,343.4 1072.9,323.3 1070.1,320.0 1067.5,306.1 1064.9,296.9 1059.6,303.5 1057.0,299.5 1055.7,293.0 1051.8,294.3 1047.9,287.8 1057.0,283.8 1053.1,277.3 1050.5,270.7 1058.3,265.5 1063.6,258.9 1066.9,252.4 1068.2,245.8 1064.2,240.6" fill="#238b45"/>
<polygon points="1129.7,277.3 1134.3,278.6 1136.9,281.9 1147.4,282.5 1148.1,286.4 1144.8,290.4 1148.7,290.4 1151.3,299.5 1149.4,300.9 1146.7,294.3 1143.5,291.7 1142.2,296.9 1136.3,298.2 1134.3,291.7 1131.0,285.1" fill="#ff7f00"/>
<polygon points="1093.7,260.9 1097.6,256.3 1108.1,262.9 1118.6,267.5 1127.1,268.8 1128.0,275.3 1118.6,273.3 1108.1,270.1 1098.9,265.5" fill="#e31a1c"/>
<polygon points="1131.7,268.1 1136.9,266.8 1143.5,268.8 1144.1,272.7 1136.9,273.3 1131.7,272.0" fill="#800000"/>
<polygon points="1101.8,358.5 1106.9,359.8 1110.6,369.8 1106.9,377.4 1103.1,373.6" fill="#e31a1c"/>
<circle cx="1047.8" cy="389.9" r="3.7" fill="#800000"/>
<polygon points="1176.0,309.5 1184.8,307.0 1188.6,313.2 1193.6,318.3 1203.6,317.0 1209.9,327.1 1209.9,334.6 1201.1,337.1 1198.6,345.9 1193.6,340.9 1187.3,340.9 1186.0,351.0 1187.3,361.0 1194.8,372.3 1198.6,377.4 1192.3,374.8 1184.8,367.3 1182.3,356.0 1184.8,343.4 1179.8,330.8 1176.0,320.8" fill="#ffff33"/>
<polygon points="1222.1,310.0 1226.0,307.4 1230.6,308.1 1229.9,313.9 1226.0,315.9 1222.7,313.9" fill="#800000"/>
<circle cx="1254.4" cy="384.4" r="2.6" fill="#800000"/>
<polygon points="1267.4,289.0 1268.9,284.4 1270.8,281.7 1273.5,281.7 1274.2,284.4 1273.9,291.3 1272.7,295.1 1271.6,297.4 1269.3,295.1 1267.7,292.0" fill="#238b45"/>
<polygon points="1272.7,218.1 1277.3,216.8 1281.2,219.4 1286.4,224.7 1289.1,229.9 1287.1,233.8 1282.5,235.1 1278.6,235.8 1276.6,229.9 1274.7,224.7" fill="#238b45"/>
<polygon points="1312.6,182.7 1317.9,185.4 1324.4,188.6 1331.0,189.3 1333.6,192.6 1329.0,195.2 1327.7,198.5 1322.5,195.8 1317.9,195.2 1317.9,199.8 1313.9,195.2 1315.3,191.9 1314.6,187.3" fill="#238b45"/>
<polygon points="1320.5,202.4 1323.8,201.7 1329.0,207.6 1331.6,214.2 1332.3,222.0 1334.9,228.6 1333.6,232.5 1329.0,233.8 1323.1,235.1 1320.5,240.4 1316.6,239.1 1315.3,233.8 1308.7,236.4 1303.5,237.8 1298.2,240.4 1297.6,237.1 1302.2,232.5 1308.7,229.9 1315.3,228.6 1316.6,223.3 1321.8,219.4 1322.5,211.6 1319.8,206.3" fill="#238b45"/>
<polygon points="1305.4,240.4 1308.7,237.8 1313.9,237.1 1312.6,240.4 1308.7,242.3 1306.7,243.6" fill="#238b45"/>
<polygon points="1294.3,241.0 1298.2,239.7 1303.5,241.7 1304.8,246.9 1303.5,251.5 1300.2,250.9 1296.9,246.3" fill="#238b45"/>
<polygon points="1279.2,241.0 1282.5,240.4 1281.9,242.3" fill="#238b45"/>
<circle cx="1239.1" cy="298.0" r="2.3" fill="#238b45"/>
<circle cx="1244.1" cy="296.2" r="2.3" fill="#238b45"/>
<polygon points="1225.3,300.0 1228.4,301.0 1227.3,305.8 1225.3,303.5" fill="#800000"/>
<polygon points="1273.6,315.0 1281.4,315.5 1283.4,321.4 1281.9,326.3 1280.0,331.3 1282.4,333.2 1281.4,336.2 1283.9,335.7 1287.3,336.2 1293.2,338.1 1292.2,340.1 1289.3,339.1 1291.3,342.1 1292.7,345.0 1289.3,344.0 1287.3,340.1 1283.4,338.1 1280.5,338.6 1278.0,337.2 1276.5,334.2 1273.6,332.2 1271.6,326.3 1274.1,325.4" fill="#238b45"/>
<polygon points="1276.0,339.1 1279.5,339.6 1281.9,343.5 1280.9,346.0 1278.0,343.5" fill="#238b45"/>
<polygon points="1286.3,367.6 1291.3,364.2 1293.7,365.6 1297.2,363.2 1301.1,359.3 1304.0,360.7 1305.0,365.6 1306.5,370.6 1304.0,373.5 1302.1,378.4 1298.1,376.9 1294.7,375.5 1295.2,370.6 1293.2,368.1 1290.3,369.6 1287.8,371.5 1286.8,374.5 1285.4,371.5" fill="#238b45"/>
<polygon points="1294.2,344.5 1298.1,344.0 1300.1,348.0 1300.6,351.4 1298.1,351.9 1298.6,355.3 1296.7,354.8 1296.2,350.9 1295.2,348.0" fill="#238b45"/>
<polygon points="1283.9,348.4 1287.8,348.9 1291.3,352.9 1293.2,350.9 1293.7,356.8 1296.2,357.8 1293.2,359.3 1290.8,361.7 1288.3,360.2 1286.8,357.8 1288.8,354.8 1284.9,353.9" fill="#238b45"/>
<polygon points="1264.7,363.7 1269.6,357.8 1274.6,353.9 1275.5,354.8 1271.1,360.2 1266.2,365.1" fill="#238b45"/>
<circle cx="1382.7" cy="330.8" r="3.7" fill="#238b45"/>
<circle cx="1381.4" cy="339.1" r="3.7" fill="#238b45"/>
<circle cx="1338.7" cy="367.3" r="3.7" fill="#238b45"/>
<polygon points="903.9,246.1 912.4,244.2 917.0,242.2 918.3,246.8 912.4,250.7 914.4,256.0 908.5,260.6 903.2,261.9 902.6,255.3" fill="#ff7f00"/>
<polygon points="1169.5,378.4 1179.9,380.7 1182.9,385.3 1188.3,389.1 1193.6,395.2 1199.0,398.3 1203.5,402.8 1206.6,405.9 1205.8,409.7 1209.7,412.0 1211.9,417.4 1216.5,421.9 1216.1,433.4 1208.9,434.2 1201.3,426.5 1195.9,418.9 1193.6,412.8 1188.3,404.4 1186.0,397.5 1182.2,393.7 1178.3,388.3 1172.2,383.8" fill="#e31a1c"/>
<polygon points="1213.9,415.1 1217.3,414.3 1218.8,418.9 1220.4,419.7 1220.0,421.9 1216.5,419.7 1215.0,417.4" fill="#e31a1c"/>
<polygon points="1209.7,405.9 1212.7,406.7 1211.2,409.3" fill="#e31a1c"/>
<circle cx="1225.3" cy="420.8" r="1.9" fill="#e31a1c"/>
<polygon points="1191.3,374.6 1195.1,377.6 1199.7,376.1 1204.3,380.7 1205.8,385.3 1205.8,392.2 1208.9,396.0 1211.9,399.0 1211.2,402.1 1207.4,402.8 1204.3,397.5 1197.4,392.2 1193.6,385.3 1192.1,379.2" fill="#800000"/>
<circle cx="1208.5" cy="399.8" r="3.3" fill="#800000"/>
<polyline points="1172.3,392.9 1175.5,395.5" fill="none" stroke="#e31a1c" stroke-width="1.7" stroke-linecap="round"/>
<polyline points="1178.8,400.1 1181.4,403.3" fill="none" stroke="#e31a1c" stroke-width="1.7" stroke-linecap="round"/>
<polyline points="1184.7,411.2 1187.3,415.1" fill="none" stroke="#e31a1c" stroke-width="1.7" stroke-linecap="round"/>
<polyline points="1189.3,417.8 1193.2,422.3" fill="none" stroke="#e31a1c" stroke-width="1.7" stroke-linecap="round"/>
<polygon points="1215.2,438.2 1224.9,436.8 1241.5,440.9 1255.4,445.1 1272.0,447.9 1285.9,449.3 1280.4,452.0 1260.9,450.7 1244.3,447.9 1224.9,443.7" fill="#e31a1c"/>
<polygon points="1288.7,449.3 1305.3,448.7 1301.2,451.5 1288.7,452.0" fill="#e31a1c"/>
<polygon points="1272.0,453.4 1279.0,454.8 1277.6,457.6" fill="#e31a1c"/>
<polygon points="1290.1,457.6 1298.4,452.0 1299.8,454.8 1291.5,459.8" fill="#e31a1c"/>
<polygon points="1298.4,452.0 1308.1,447.9 1301.2,454.3" fill="#238b45"/>
<polygon points="1231.9,397.5 1240.4,394.2 1244.3,391.6 1250.9,387.6 1253.5,382.4 1258.7,381.1 1263.9,373.2 1267.9,375.8 1273.8,380.4 1267.9,382.4 1267.9,385.0 1262.6,385.7 1258.7,387.6 1256.1,392.9 1253.5,396.8 1248.2,398.8 1241.7,400.1 1236.4,401.4" fill="#800000"/>
<polygon points="1230.6,398.1 1231.9,397.5 1236.4,401.4 1241.7,400.1 1248.2,398.8 1253.5,396.8 1256.1,392.9 1258.7,387.6 1262.6,385.7 1267.9,385.0 1268.5,390.2 1270.5,395.5 1273.1,401.4 1267.9,403.3 1266.6,408.6 1262.6,415.1 1261.3,423.0 1256.1,426.3 1249.5,421.7 1241.7,422.3 1236.4,419.1 1233.8,411.2 1231.2,404.7" fill="#e31a1c"/>
<polygon points="1279.0,402.7 1283.6,400.7 1292.8,402.0 1299.3,398.1 1301.3,399.4 1298.0,403.3 1291.5,405.3 1283.6,404.7 1279.7,408.6 1281.0,411.9 1286.2,411.2 1292.8,409.2 1293.4,411.9 1286.2,415.1 1284.9,420.4 1288.8,426.9 1291.5,433.5 1288.8,432.2 1283.6,424.3 1281.0,421.7 1280.3,429.5 1276.4,434.1 1275.1,425.6 1273.8,420.4 1276.4,412.5 1277.7,407.3" fill="#e31a1c"/>
<polygon points="1311.1,399.4 1315.7,394.2 1316.3,399.4 1314.4,403.3 1316.3,408.6 1312.4,407.3 1310.4,409.9 1312.4,404.7" fill="#e31a1c"/>
<polygon points="1304.6,422.3 1308.5,421.7 1309.1,424.3 1305.9,425.0" fill="#e31a1c"/>
<polygon points="1313.1,421.7 1319.0,420.4 1325.5,422.3 1322.9,424.3 1315.0,423.6" fill="#e31a1c"/>
<polygon points="1327.5,410.4 1335.8,409.0 1341.4,413.2 1338.6,418.8 1349.7,417.4 1355.2,414.6 1370.5,420.1 1369.1,452.0 1363.6,447.9 1355.2,446.5 1359.4,440.9 1352.5,431.2 1344.2,428.5 1338.6,425.7 1334.4,418.8 1330.3,414.6" fill="#e31a1c"/>
<polygon points="1370.5,420.1 1380.2,424.3 1391.3,431.2 1398.2,436.8 1394.1,440.9 1405.2,452.0 1410.7,458.1 1399.6,456.2 1391.3,449.3 1383.0,447.9 1377.4,452.0 1369.1,452.0" fill="#a1d99b"/>
<polygon points="1401.0,435.4 1413.5,432.6 1419.0,427.1 1420.4,429.8 1414.9,435.4 1403.8,437.6" fill="#a1d99b"/>
<polygon points="1428.7,432.6 1434.3,439.6 1431.5,439.6" fill="#a1d99b"/>
<polyline points="1437.1,440.9 1441.2,443.7" fill="none" stroke="#ff7f00" stroke-width="1.7" stroke-linecap="round"/>
<polyline points="1444.0,444.3 1449.0,447.9" fill="none" stroke="#ff7f00" stroke-width="1.7" stroke-linecap="round"/>
<polyline points="1450.9,450.7 1455.1,454.3" fill="none" stroke="#ff7f00" stroke-width="1.7" stroke-linecap="round"/>
<polyline points="1455.1,456.2 1458.4,459.2" fill="none" stroke="#ff7f00" stroke-width="1.7" stroke-linecap="round"/>
<polyline points="1438.5,446.5 1442.6,449.3" fill="none" stroke="#ff7f00" stroke-width="1.7" stroke-linecap="round"/>
<polygon points="1459.3,507.5 1463.4,507.5 1470.3,515.8 1466.2,516.4" fill="#238b45"/>
<circle cx="1479.2" cy="488.1" r="3.7" fill="#ff7f00"/>
<circle cx="1520.3" cy="487.5" r="3.7" fill="#ff7f00"/>
<circle cx="1530.8" cy="447.0" r="3.7" fill="#ff7f00"/>
<circle cx="1547.2" cy="511.1" r="3.7" fill="#ff7f00"/>
<polyline points="1519.4,495.0 1524.4,494.2" fill="none" stroke="#ff7f00" stroke-width="1.7" stroke-linecap="round"/>
<polyline points="1525.8,489.8 1531.4,487.5" fill="none" stroke="#ff7f00" stroke-width="1.7" stroke-linecap="round"/>
<circle cx="1338.0" cy="367.2" r="3.7" fill="#238b45"/>
<circle cx="1382.4" cy="331.4" r="3.7" fill="#238b45"/>
<circle cx="1381.6" cy="339.7" r="3.7" fill="#238b45"/>
<circle cx="1444.6" cy="370.2" r="3.7" fill="#238b45"/>
<circle cx="1475.9" cy="396.0" r="3.7" fill="#238b45"/>
<circle cx="1576.6" cy="452.6" r="3.7" fill="#238b45"/>
<circle cx="1554.9" cy="473.1" r="3.7" fill="#238b45"/>
<circle cx="1568.8" cy="473.7" r="3.7" fill="#238b45"/>
<circle cx="1573.0" cy="479.8" r="3.7" fill="#238b45"/>
<circle cx="1555.8" cy="496.7" r="3.7" fill="#238b45"/>
<circle cx="1213.0" cy="456.2" r="3.7" fill="#238b45"/>
<circle cx="1499.5" cy="373.0" r="3.7" fill="#00441b"/>
<polygon points="1317.8,465.9 1327.5,463.1 1341.4,465.9 1348.3,465.9 1346.9,477.0 1358.0,488.1 1363.6,493.6 1369.1,477.0 1373.3,460.4 1378.8,471.5 1383.0,485.3 1385.8,499.2 1394.1,507.5 1398.2,518.6 1401.0,519.4 1404.6,536.1 1399.6,552.7 1391.3,566.6 1380.2,577.7 1369.1,591.5 1355.2,597.1 1346.9,595.7 1338.6,597.6 1330.3,591.5 1327.5,580.4 1328.9,569.3 1323.3,572.1 1316.4,579.0 1313.6,569.3 1303.9,563.2 1288.7,565.2 1272.0,570.7 1255.4,576.3 1238.8,579.9 1231.8,574.9 1236.0,566.6 1238.8,552.7 1237.4,536.1 1240.1,522.2 1247.1,512.5 1260.9,506.9 1274.8,500.0 1280.4,499.2 1288.7,488.1 1299.8,479.8 1313.6,474.2" fill="#238b45"/>
<polygon points="1337.2,606.8 1345.5,609.0 1353.9,605.4 1351.1,615.1 1342.8,621.5 1335.8,620.7" fill="#238b45"/>
<polygon points="1470.3,577.7 1473.1,586.0 1475.9,591.5 1484.2,592.9 1477.3,599.8 1469.0,605.4 1459.3,610.9 1456.5,608.2 1463.4,599.8 1469.0,588.8" fill="#238b45"/>
<polygon points="1450.9,607.6 1455.1,610.9 1444.0,619.3 1430.1,627.6 1416.3,635.9 1407.9,638.7 1406.6,634.5 1416.3,626.2 1432.9,617.9" fill="#238b45"/>
<polyline points="806.4,77.9 810.4,83.8 803.8,90.4 796.0,96.9 788.1,100.9 780.9,104.8 780.2,111.3" style="fill:none;stroke:#0a1f10;stroke-opacity:.75;stroke-width:1.8;stroke-linejoin:round"/>
<polyline points="806.4,77.9 814.3,73.3 824.8,69.4 835.3,66.8 845.7,64.8" style="fill:none;stroke:#0a1f10;stroke-opacity:.75;stroke-width:1.2;stroke-linejoin:round"/>
<polygon points="733.0,231.4 750.6,230.2 770.7,225.1 790.8,223.9 800.8,222.6 803.4,232.7 798.3,239.0 805.9,244.0 821.0,250.3 836.0,255.3 841.1,246.5 851.1,245.3 861.2,250.3 876.3,252.8 891.4,251.5 901.4,250.3 891.3,259.3 894.2,264.7 897.7,269.2 899.6,272.6 902.6,279.5 906.0,287.3 906.5,291.3 911.4,296.2 913.4,301.1 914.4,308.9 919.3,315.8 920.3,318.8 923.2,324.7 926.2,329.6 931.1,334.5 936.0,340.0 938.5,343.9 941.8,347.2 939.8,350.5 945.7,353.8 951.0,353.8 958.8,351.8 969.3,349.2 976.5,347.6 975.9,357.0 971.9,367.5 968.0,376.7 961.5,387.2 953.6,396.3 944.4,404.2 937.9,412.0 935.3,414.0 931.3,418.6 928.7,423.8 924.8,429.7 923.5,436.9 926.1,444.8 927.4,452.6 927.2,452.9 929.8,460.4 931.0,478.0 926.0,488.1 910.9,498.1 904.6,508.2 907.1,518.2 905.9,528.3 894.6,535.8 893.3,540.8 885.8,553.4 875.7,566.0 865.7,573.5 850.6,576.0 838.0,578.6 831.7,576.0 830.5,566.0 825.4,550.9 819.1,538.3 812.9,513.2 805.3,491.8 805.3,483.0 809.1,467.9 811.6,450.3 807.8,432.7 800.3,417.7 796.2,402.6 797.5,395.4 796.9,389.5 793.6,384.3 791.6,383.0 783.1,384.3 778.5,383.6 775.3,376.4 771.3,375.1 765.4,374.5 758.2,376.4 751.7,379.1 745.1,382.3 741.9,380.4 733.3,380.4 721.6,383.6 720.2,384.3 712.4,379.1 707.2,374.5 704.5,371.2 699.3,369.2 695.4,363.3 690.8,355.5 685.5,350.2 681.6,345.0 681.0,340.4 678.3,333.2 683.6,325.6 683.9,313.1 682.7,300.6 687.7,285.5 700.3,270.4 712.9,255.3 717.9,245.3" fill="#ff7f00"/>
<polygon points="733.0,231.4 750.6,230.2 770.7,225.1 790.8,223.9 800.8,222.6 803.4,232.7 798.3,239.0 805.9,244.0 821.0,250.3 836.0,255.3 841.1,246.5 851.1,245.3 861.2,250.3 876.3,252.8 891.4,251.5 901.4,250.3 891.3,259.3 894.2,264.7 897.7,269.2 899.6,272.6 902.6,279.5 906.0,287.3 906.5,291.3 911.4,296.2 911.4,298.0 863.7,298.1 858.7,308.1 823.5,291.8 818.4,294.3 805.9,291.8 772.6,311.6 768.7,309.0 736.7,285.5 727.9,283.0 728.1,296.5 730.7,328.6 703.9,329.9 701.9,332.6 698.0,329.3 691.4,324.3 683.6,325.6 683.9,313.1 682.7,300.6 687.7,285.5 700.3,270.4 712.9,255.3 717.9,245.3" fill="#800000"/>
<polygon points="858.7,308.1 863.7,298.1 911.4,298.0 913.4,301.1 914.4,308.9 919.3,315.8 920.3,318.8 915.9,321.2 914.4,328.6 911.5,335.8 907.8,346.5 905.1,353.1 902.5,358.3 899.9,353.1 897.3,346.5 896.6,352.4 890.7,353.1 885.5,355.1 877.6,359.0 872.4,358.3 864.5,355.7 858.0,357.0 852.7,350.5 850.1,343.9 851.1,340.8 858.7,330.7" fill="#ffff33"/>
<polygon points="920.3,318.8 923.2,324.7 926.2,329.6 931.1,334.5 936.0,340.0 938.6,344.3 942.5,347.6 940.6,349.5 936.0,345.6 931.4,336.4 921.6,333.8 917.6,335.1 913.0,335.8 914.4,328.6 915.9,321.2" fill="#800000"/>
<polygon points="939.8,350.5 945.7,353.8 951.0,353.8 958.8,351.8 969.3,349.2 976.5,347.6 975.9,357.0 971.9,367.5 968.0,376.7 961.5,387.2 953.6,396.3 944.4,404.2 937.9,412.0 935.3,414.0 933.3,408.1 933.3,395.0 935.3,385.8 938.5,385.2 945.7,381.9 952.3,379.3 962.1,367.5 948.4,361.0 941.8,358.3 937.9,353.1" fill="#800000"/>
<polygon points="728.1,296.5 727.9,283.0 736.7,285.5 768.7,309.0 772.6,311.6 772.6,328.0 768.7,329.9 755.6,332.6 757.6,339.1 763.5,345.7 760.9,349.6 757.6,352.2 754.3,351.6 755.0,359.4 756.9,373.8 758.2,376.4 751.7,379.1 745.1,382.3 741.9,380.4 740.6,373.8 742.5,364.7 741.2,357.5 733.3,358.1 728.1,354.2 722.9,354.8 718.3,355.5 716.3,351.6 713.7,346.3 705.2,345.7 703.2,339.8 701.9,333.2 703.9,329.9 730.7,328.6" fill="#238b45"/>
<polygon points="754.3,351.6 757.6,352.2 759.5,360.7 760.9,375.1 758.2,376.4 756.9,373.8 755.0,359.4" fill="#a1d99b"/>
<polygon points="766.7,346.3 770.0,345.0 772.6,339.8 777.9,338.5 785.7,340.4 794.9,342.4 804.1,340.4 812.6,338.5 815.9,341.7 818.5,346.3 819.1,354.2 821.8,356.8 815.2,358.1 815.9,361.4 820.4,366.0 821.1,368.6 817.8,373.8 817.8,380.4 821.1,386.9 824.4,392.2 824.4,397.4 811.9,394.8 797.5,395.4 796.9,389.5 793.6,384.3 791.6,383.0 783.1,384.3 778.5,383.6 775.3,376.4 771.3,375.1 765.4,374.5 765.4,366.0 767.4,360.7 770.0,352.9" fill="#238b45"/>
<polygon points="681.6,345.0 694.1,344.4 703.9,344.4 705.2,345.7 713.7,346.3 716.3,351.6 718.3,355.5 718.3,363.3 717.6,368.6 713.7,369.9 711.7,365.3 708.5,364.7 704.5,371.2 699.3,369.2 695.4,363.3 690.8,355.5 685.5,350.2" fill="#a1d99b"/>
<polygon points="681.6,339.4 694.1,339.6 693.8,340.8 682.3,340.7" fill="#238b45"/>
<polygon points="718.3,355.5 722.9,354.8 728.1,354.2 733.3,358.1 741.2,357.5 742.5,364.7 740.6,373.8 741.9,380.4 733.3,380.4 721.6,383.6 721.6,379.1 717.6,368.6 718.3,363.3" fill="#a1d99b"/>
<polygon points="817.8,373.8 821.1,368.6 829.0,367.3 835.5,364.7 843.4,360.7 848.6,354.2 853.8,351.6 856.5,355.5 858.7,360.9 866.2,371.0 872.5,379.8 861.2,381.0 851.1,384.8 844.7,381.7 839.4,381.7 835.5,387.6 825.0,389.5 824.4,392.2 821.1,386.9 817.8,380.4" fill="#a1d99b"/>
<polygon points="903.2,385.2 909.1,383.9 919.5,388.5 926.1,388.5 935.3,385.8 933.3,395.0 933.3,408.1 935.3,414.0 931.3,418.6 928.7,423.8 924.8,429.7 918.2,422.5 911.7,417.3 903.2,411.4 905.1,406.8 903.2,402.9 906.4,396.3 905.1,391.1" fill="#a1d99b"/>
<polygon points="893.3,408.1 897.3,405.5 901.2,406.1 903.2,408.1 901.2,413.3 898.6,418.6 894.0,418.6 892.7,413.3" fill="#fff"/>
<polygon points="892.8,259.0 899.6,252.0 903.1,260.8 902.1,264.7 900.1,268.5 897.2,265.7 894.7,262.3" fill="#800000"/>
<circle cx="783.5" cy="402.0" r="3.7" fill="#ff7f00"/>
<circle cx="651.3" cy="327.0" r="3.7" fill="#ff7f00"/>
<circle cx="1046.7" cy="389.8" r="3.7" fill="#800000"/>
<circle cx="998.2" cy="421.7" r="3.7" fill="#238b45"/>
<circle cx="681.4" cy="265.9" r="1.3" fill="#238b45"/>
<circle cx="687.7" cy="267.4" r="1.3" fill="#238b45"/>
<circle cx="696.5" cy="264.9" r="1.3" fill="#238b45"/>
<polygon points="807.8,436.5 825.4,435.3 830.5,442.8 848.1,441.5 850.6,460.4 858.1,461.7 858.1,473.0 850.6,474.2 850.6,490.6 853.1,494.3 833.0,493.1 805.3,491.8 805.3,483.0 809.1,467.9 811.6,450.3" fill="#a1d99b"/>
<polygon points="805.3,491.8 833.0,493.1 853.1,494.3 863.1,493.1 870.7,490.6 883.2,484.3 895.8,488.1 897.1,500.6 893.3,510.7 889.5,518.2 890.8,530.8 894.6,535.8 893.3,540.8 885.8,553.4 875.7,566.0 865.7,573.5 850.6,576.0 838.0,578.6 831.7,576.0 830.5,566.0 825.4,550.9 819.1,538.3 812.9,513.2" fill="#238b45"/>
<polygon points="845.5,496.9 860.6,495.6 868.2,505.7 879.5,515.7 870.7,523.2 863.1,533.3 853.1,534.6 844.3,538.3 840.5,515.7 844.3,515.7" fill="#ff7f00"/>
<polygon points="907.1,464.2 929.8,460.4 931.0,478.0 926.0,488.1 910.9,498.1 904.6,508.2 907.1,518.2 905.9,528.3 894.6,535.8 890.8,530.8 889.5,518.2 893.3,510.7 897.1,500.6 895.8,488.1 885.8,484.3 887.0,481.8 898.3,476.7 903.4,480.5 904.6,488.1 908.4,485.5 909.6,476.7 905.9,473.0" fill="#a1d99b"/>
<polygon points="898.3,454.1 902.1,454.1 904.6,465.4 905.9,473.0 909.6,476.7 908.4,486.8 905.4,490.6 903.4,480.5 899.6,476.7 897.1,475.5 899.6,465.4" fill="#00441b"/>
<polygon points="880.9,423.8 882.9,423.8 884.2,434.3 888.1,446.1 889.4,448.7 887.5,448.7 884.2,440.9 881.6,431.7" fill="#fff"/>
<polygon points="900.8,454.1 902.6,454.1 904.6,470.5 902.9,470.5" fill="#fff"/>
<circle cx="888.8" cy="538.3" r="3.0" fill="#ff7f00"/>
<polygon points="967.5,465.4 971.2,473.0 972.5,484.3 968.7,490.6 963.7,508.2 957.4,528.3 948.6,533.3 942.3,528.3 939.8,515.7 943.6,503.1 946.1,490.6 953.6,484.3 962.4,478.0 965.0,470.5" fill="#ff7f00"/>
<circle cx="944.3" cy="465.4" r="3.7" fill="#800000"/>
<circle cx="950.4" cy="471.0" r="2.6" fill="#238b45"/>
<circle cx="998.1" cy="421.7" r="3.7" fill="#238b45"/>
<circle cx="1047.4" cy="391.3" r="3.7" fill="#800000"/>
<circle cx="1047.4" cy="443.3" r="3.7" fill="#238b45"/>
<circle cx="999.7" cy="506.2" r="3.7" fill="#238b45"/>
<circle cx="992.6" cy="510.9" r="2.6" fill="#238b45"/>
<circle cx="1147.2" cy="486.8" r="3.7" fill="#238b45"/>
<circle cx="82.2" cy="405.9" r="3.7" fill="#238b45"/>
<circle cx="32.7" cy="488.9" r="3.7" fill="#238b45"/>
<circle cx="116.2" cy="481.6" r="2.6" fill="#238b45"/>
<circle cx="258.5" cy="536.7" r="3.7" fill="#00441b"/>
<circle cx="355.8" cy="409.2" r="1.2" fill="#ffff33"/>
<polyline points="818.5,293.3 822.4,304.4 819.8,322.7 813.2,334.5 812.6,338.5" class="b"/>
<polyline points="731.4,350.2 736.0,341.7 741.2,337.2 750.4,331.9 755.6,332.6" class="b"/>
<polyline points="741.2,352.2 754.3,351.6" class="b"/>
<polyline points="815.9,341.7 817.2,347.6 814.6,352.9 810.6,360.7 805.4,371.2 802.8,373.8 798.8,371.9 793.6,376.4 791.6,383.0" class="b"/>
<polyline points="757.6,352.2 760.9,349.6 763.5,345.7 766.7,346.3" class="b"/>
<polyline points="765.4,374.5 765.4,366.0 767.4,360.7 770.0,352.9 766.7,346.3" class="b"/>
<polyline points="681.6,303.1 699.3,302.4 699.3,292.6 703.2,290.0" class="b"/>
<polyline points="797.5,395.4 797.5,402.6 804.1,402.6 804.1,395.4" class="b"/>
<polyline points="811.9,394.8 813.2,402.6 815.9,405.3 814.6,410.0" class="b"/>
<polyline points="790.8,223.9 788.3,237.7 795.8,250.3 794.6,265.4 798.3,283.0 805.9,291.8" class="b"/>
<polyline points="861.2,250.3 861.2,298.1" class="b"/>
<polyline points="750.6,230.2 748.1,240.2 733.0,247.8 720.4,257.8 717.9,262.9" class="b"/>
<polyline points="717.9,262.9 736.7,285.5" class="b"/>
<polyline points="798.3,239.0 794.6,244.0 790.8,237.7" class="b"/>
<polyline points="798.3,239.0 794.6,244.0 790.8,238.0" class="b"/>
<polyline points="825.4,435.3 830.5,442.8 848.1,441.5 850.6,460.4 858.1,461.7 868.2,465.4 880.7,473.0 883.2,467.9 878.2,462.9 879.5,449.1 888.3,449.1 883.2,435.3 880.7,422.7 887.0,415.1" class="b"/>
<polyline points="850.6,474.2 858.1,473.0 858.1,461.7" class="b"/>
<polyline points="850.6,490.6 853.1,494.3 863.1,493.1 870.7,490.6 883.2,484.3" class="b"/>
<polyline points="879.5,515.7 885.8,515.7 889.5,518.2" class="b"/>
<polyline points="839.3,545.9 844.3,538.3 853.1,534.6 863.1,533.3 870.7,523.2 879.5,515.7" class="b"/>
<polyline points="938.6,323.3 941.2,320.1 956.9,322.0 962.2,315.5 977.9,312.2 983.1,323.3" class="b"/>
<polyline points="977.9,312.2 991.0,307.6 992.3,294.5 989.7,285.4" class="b"/>
<polyline points="981.8,288.0 991.0,294.5" class="b"/>
<polyline points="918.3,246.8 928.1,250.7 941.2,259.9 951.7,261.9 957.6,258.6" class="b"/>
<polyline points="938.6,218.0 945.1,229.8 943.8,236.3 951.7,244.2 956.9,253.3 957.6,258.6" class="b"/>
<polyline points="905.8,237.6 917.6,241.6 925.5,235.0 928.1,223.2 938.6,218.0" class="b"/>
<polyline points="1008.0,231.1 1009.3,242.9 1011.9,258.6 1022.4,270.4 1017.2,281.5" class="b"/>
<polyline points="975.9,221.9 985.7,218.0 996.2,219.3 1006.7,225.8 1008.0,231.1" class="b"/>
<polyline points="1008.0,231.1 1017.2,229.8 1023.7,221.9 1034.2,221.9 1046.0,218.0 1049.9,223.2" class="b"/>
<polyline points="1011.9,258.6 1030.3,259.9 1040.7,250.7 1048.6,236.3 1049.9,223.2 1060.0,220.6" class="b"/>
<polyline points="978.5,201.0 991.0,211.4 1006.7,225.8" class="b"/>
<polyline points="997.5,186.5 1004.1,199.6 1023.7,207.5 1034.2,221.9" class="b"/>
<polyline points="1173.5,270.5 1181.0,293.1 1191.1,295.7 1201.1,290.6 1213.7,300.7" class="b"/>
<polyline points="1191.1,295.7 1198.6,310.7 1203.6,317.0" class="b"/>
<polyline points="1209.9,327.1 1216.2,320.8 1213.7,315.8" class="b"/>
<polyline points="1200.0,160.5 1207.9,161.8 1211.8,152.6 1217.0,150.0" class="b"/>
<polyline points="1232.7,150.0 1245.8,161.8 1261.6,167.0 1273.3,171.0 1278.6,168.3 1279.9,180.1 1273.3,185.4 1278.6,193.9" class="b"/>
<polyline points="1278.6,193.9 1273.3,197.2 1262.9,202.4 1258.9,209.6" class="b"/>
<polyline points="1206.1,145.8 1223.7,144.6 1241.3,160.9" class="b"/>
<polyline points="888.1,388.5 902.5,387.2 903.2,385.2" class="b"/>
<polyline points="888.1,388.5 884.2,384.5 877.6,383.2 872.4,379.3" class="b"/>
<polyline points="888.1,388.5 889.4,395.0 886.8,398.9 884.2,405.5 884.2,412.0 892.7,411.4" class="b"/>
<polyline points="880.9,413.3 888.1,412.0 888.8,418.6 885.5,425.1 881.6,423.8" class="b"/>
<polyline points="903.8,374.1 909.1,379.3 910.4,383.2 903.2,385.2" class="b"/>
<polyline points="898.6,365.5 903.8,374.1" class="b"/>
<polyline points="901.9,364.2 898.6,365.5" class="b"/>
<polyline points="902.5,358.3 901.9,364.2" class="b"/>
<polyline points="911.7,417.3 918.2,422.5 924.8,429.7" class="b"/>
<polyline points="834.4,385.8 831.8,402.9 827.9,413.3 825.2,423.8 820.0,430.4" class="b"/>
<polyline points="878.3,448.7 888.1,448.1" class="b"/>
<polyline points="820.0,436.3 825.2,436.3 829.2,443.5 843.6,442.2 848.8,444.8 850.8,460.0" class="b"/>
<circle cx="1025.9" cy="650.0" r="3.8" fill="#238b45"/>
<circle cx="1037.7" cy="669.3" r="3.8" fill="#238b45"/>
<circle cx="86.2" cy="309.5" r="2.3" fill="#238b45"/>
<circle cx="81.7" cy="303.2" r="1.1" fill="#238b45"/>
<circle cx="77.9" cy="300.2" r="1.0" fill="#238b45"/>
<circle cx="71.7" cy="297.0" r="1.0" fill="#238b45"/>
<circle cx="642.5" cy="215.5" r="0.9" fill="#238b45"/>
<circle cx="646.5" cy="216.5" r="0.8" fill="#238b45"/>
<circle cx="652.5" cy="220.0" r="0.9" fill="#238b45"/>
<circle cx="685.0" cy="244.0" r="0.9" fill="#238b45"/>
<rect x="24.9" y="406.3" width="17.8" height="17.9" fill="#00441b" style="stroke:#777;stroke-width:.5"/>
<rect x="24.9" y="452.9" width="17.8" height="17.9" fill="#238b45" style="stroke:#777;stroke-width:.5"/>
<rect x="24.9" y="499.4" width="17.8" height="17.9" fill="#a1d99b" style="stroke:#777;stroke-width:.5"/>
<rect x="24.9" y="546.0" width="17.8" height="17.9" fill="#ffff33" style="stroke:#777;stroke-width:.5"/>
<rect x="24.9" y="592.5" width="17.8" height="17.9" fill="#ff7f00" style="stroke:#777;stroke-width:.5"/>
<rect x="24.9" y="639.1" width="17.8" height="17.9" fill="#e31a1c" style="stroke:#777;stroke-width:.5"/>
<rect x="24.9" y="707.1" width="17.8" height="17.9" fill="#800000" style="stroke:#777;stroke-width:.5"/>
</svg>
<div class="title" style="top:349.25px">Customs restrictions on religious goods</div>
<div class="title" style="top:369.25px">by country and territory (2024)</div>
<div class="lt" style="top:407.25px">Unregistered religious organisations are</div>
<div class="lt" style="top:428.25px">eligible for duty-free imports</div>
<div class="lt" style="top:453.25px">No specific restrictions on the</div>
<div class="lt" style="top:474.25px">importation of religious goods</div>
<div class="lt" style="top:500.25px">Only registered religious organisations</div>
<div class="lt" style="top:521.25px">are eligible for duty-free imports</div>
<div class="lt" style="top:547.25px">An import licence is required to import</div>
<div class="lt" style="top:567.25px">religious materials</div>
<div class="lt" style="top:593.25px">Only registered religious organisations</div>
<div class="lt" style="top:614.25px">may legally import religious goods</div>
<div class="lt" style="top:640.25px">Religious materials are screened by a</div>
<div class="lt" style="top:660.25px">state committee which must grant</div>
<div class="lt" style="top:681.25px">approval prior to importation</div>
<div class="lt" style="top:708.25px">The literature of at least one religion</div>
<div class="lt" style="top:728.25px">is prohibited from importation</div>
<div class="src" style="top:781.25px">Sources: FedEx Global Prohibited and Restricted Items, Universal Postal Union’s Country Specific List of Prohibited and Restricted Articles,</div>
<div class="src" style="top:810.25px;word-spacing:.31px">U.S. Department of State’s 2023 Report on International Religious Freedom, FCDO’s foreign travel advice bureau, the International Trade</div>
<div class="src" style="top:840.25px">Administration’s Country Commercial Guides on Prohibited and Restricted Imports, the United Parcel Service’s List of Prohibited and</div>
<div class="src" style="top:870.25px">Restricted Items for Shipping and the website of each national customs authority.</div>
</body></html>
